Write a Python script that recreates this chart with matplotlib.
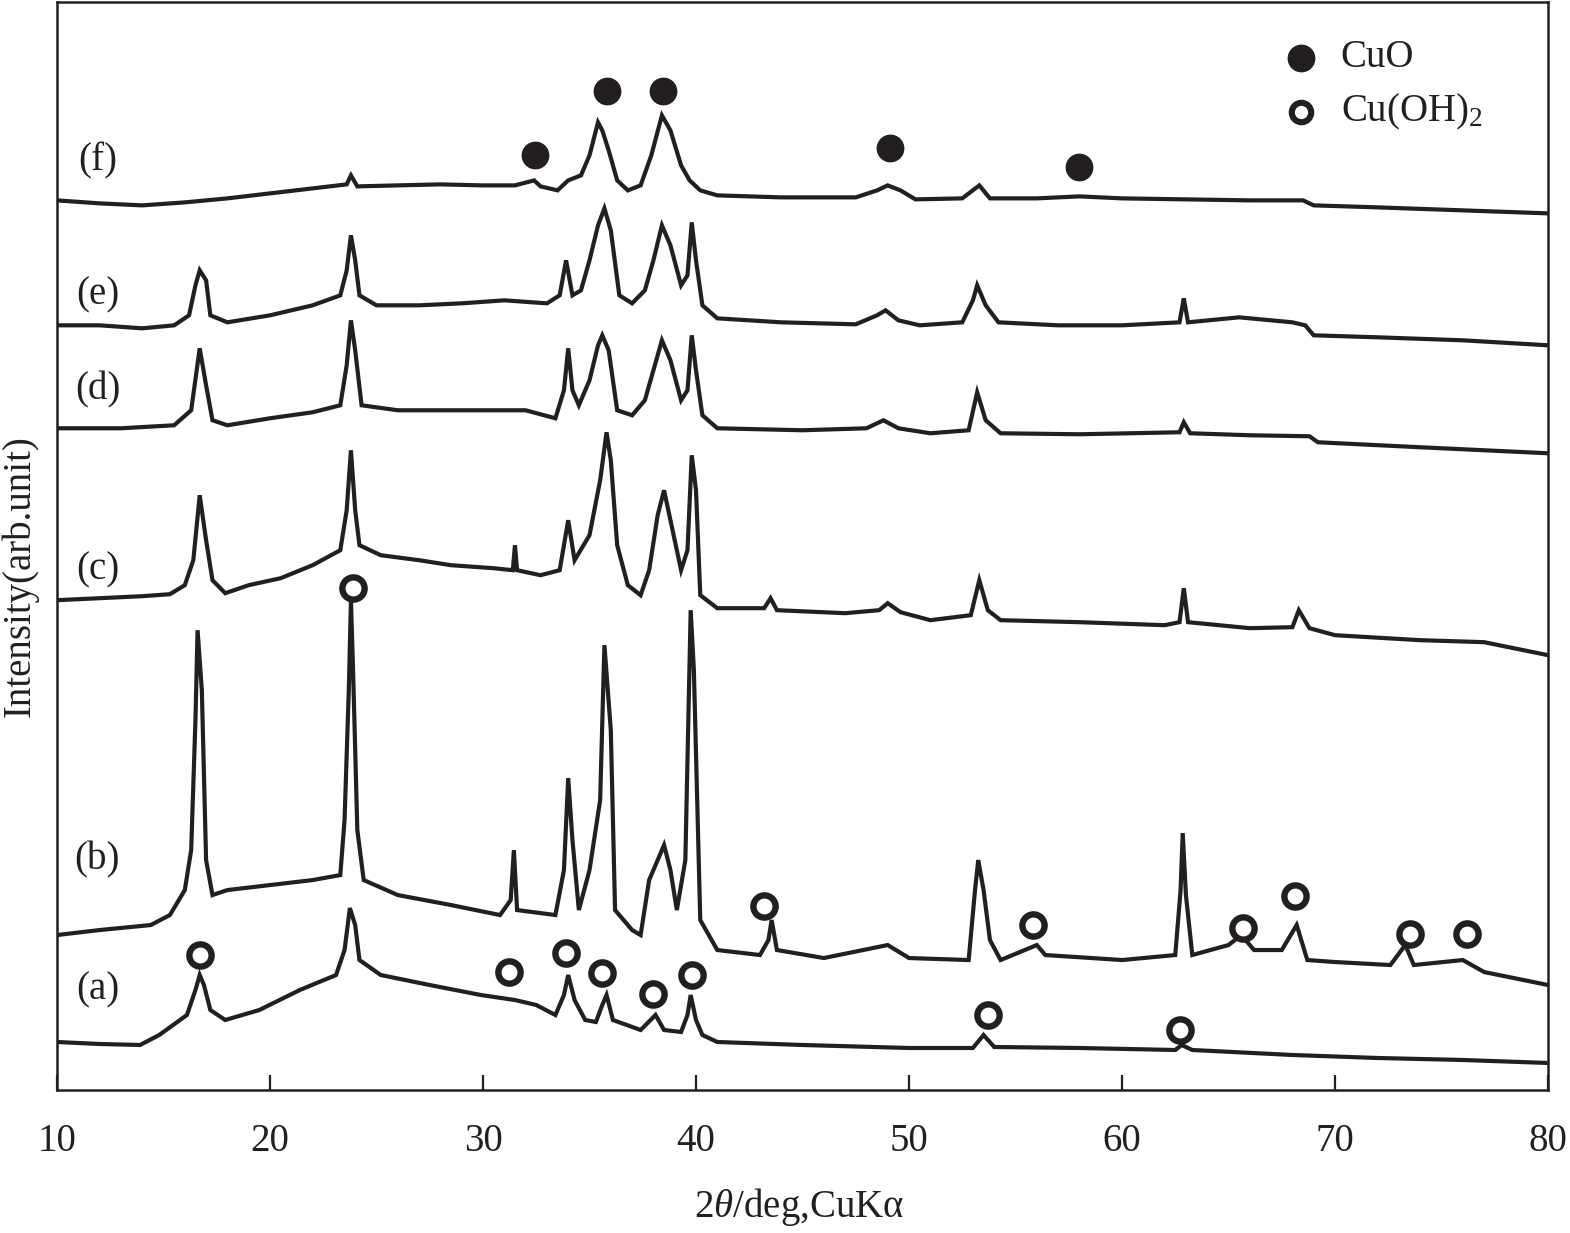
import matplotlib
matplotlib.use("Agg")
import matplotlib.pyplot as plt

plt.rcParams['font.family'] = ['Liberation Serif', 'DejaVu Serif']
plt.rcParams['mathtext.fontset'] = 'custom'
plt.rcParams['mathtext.rm'] = 'Liberation Serif'
plt.rcParams['mathtext.it'] = 'Liberation Serif:italic'

# XRD patterns, 2theta (deg) and stacked intensity (arb. unit)
a_x = [10.0, 12.0, 13.9, 14.8, 16.1, 16.5, 16.7, 16.9, 17.2, 17.9, 19.5, 21.4, 23.1, 23.5, 23.75, 24.0, 24.2,
       25.2, 27.5, 29.9, 31.5, 32.5, 33.4, 33.8, 34.0, 34.3, 34.8, 35.3, 35.6, 35.8, 36.1, 37.4, 38.1, 38.5,
       39.3, 39.6, 39.75, 40.0, 40.3, 41.0, 45.0, 50.0, 53.0, 53.5, 54.0, 58.0, 62.5, 62.8, 63.3, 68.0, 72.0,
       76.0, 80.0]
a_y = [48, 46, 45, 55, 75, 100, 115, 105, 80, 70, 80, 100, 115, 140, 182, 165, 130,
       115, 105, 95, 90, 85, 75, 95, 115, 90, 70, 68, 85, 95, 70, 60, 75, 60,
       58, 75, 95, 70, 55, 48, 45, 42, 42, 55, 43, 42, 40, 45, 40, 35, 32,
       30, 27]

b_x = [10.0, 12.0, 14.4, 15.3, 16.0, 16.3, 16.5, 16.6, 16.8, 17.0, 17.3, 18.0, 20.0, 22.0, 23.3, 23.5, 23.7,
       23.8, 23.9, 24.1, 24.4, 26.0, 28.5, 30.8, 31.3, 31.45, 31.6, 33.4, 33.8, 34.0, 34.2, 34.5, 35.0, 35.5,
       35.7, 36.0, 36.2, 37.0, 37.4, 37.8, 38.1, 38.5, 38.8, 39.1, 39.5, 39.75, 39.9, 40.2, 41.0, 43.0, 43.4,
       43.55, 43.8, 46.0, 49.0, 50.0, 52.8, 53.1, 53.25, 53.5, 53.8, 54.3, 56.0, 56.4, 60.0, 62.5, 62.75,
       62.85, 63.0, 63.3, 65.0, 65.6, 66.2, 67.5, 68.2, 68.7, 70.0, 72.6, 73.3, 73.7, 76.0, 77.0, 80.0]
b_y = [155, 160, 165, 175, 200, 240, 370, 460, 400, 230, 195, 200, 205, 210, 215, 270, 400,
       490, 420, 260, 210, 195, 185, 175, 190, 240, 180, 175, 220, 312, 250, 180, 220, 290,
       445, 360, 180, 160, 155, 210, 225, 245, 220, 180, 230, 480, 420, 170, 140, 135, 150,
       170, 140, 132, 145, 132, 130, 200, 230, 200, 150, 130, 145, 135, 130, 135, 200,
       257, 195, 135, 145, 155, 140, 140, 165, 130, 128, 125, 145, 125, 130, 118, 105]

c_x = [10.0, 12.0, 14.0, 15.3, 16.0, 16.4, 16.7, 17.0, 17.3, 17.9, 19.0, 20.5, 22.0, 23.3, 23.6, 23.8, 24.0,
       24.2, 25.2, 27.0, 28.5, 30.5, 31.4, 31.5, 31.6, 32.7, 33.6, 34.0, 34.3, 35.0, 35.5, 35.8, 36.0, 36.3,
       36.8, 37.4, 37.8, 38.2, 38.5, 38.9, 39.3, 39.6, 39.8, 40.0, 40.2, 41.0, 43.2, 43.5, 43.8, 47.0, 48.6,
       49.0, 49.6, 51.0, 52.9, 53.3, 53.7, 54.3, 58.0, 62.0, 62.7, 62.9, 63.1, 66.0, 68.0, 68.3, 68.8, 70.0,
       74.0, 77.0, 80.0]
c_y = [490, 492, 494, 496, 505, 530, 595, 550, 510, 497, 505, 512, 525, 540, 580, 640, 580,
       545, 535, 530, 525, 522, 520, 545, 520, 515, 520, 570, 530, 555, 610, 658, 630, 545,
       505, 495, 520, 575, 600, 560, 520, 540, 635, 600, 495, 482, 482, 492, 480, 477, 480,
       487, 478, 470, 475, 510, 480, 470, 468, 465, 468, 502, 468, 462, 463, 480, 462, 455,
       450, 448, 435]

d_x = [10.0, 13.0, 15.5, 16.3, 16.7, 17.0, 17.3, 18.0, 20.0, 22.0, 23.3, 23.6, 23.8, 24.0, 24.3, 26.0, 30.0,
       32.0, 33.4, 33.8, 34.0, 34.2, 34.5, 35.0, 35.4, 35.6, 35.9, 36.3, 37.0, 37.6, 38.0, 38.4, 38.8, 39.3,
       39.6, 39.8, 40.0, 40.3, 41.0, 45.0, 48.0, 48.8, 49.5, 51.0, 52.8, 53.2, 53.6, 54.3, 58.0, 62.7, 62.9,
       63.2, 66.0, 68.8, 69.2, 74.0, 80.0]
d_y = [662, 662, 665, 680, 742, 705, 670, 665, 672, 678, 685, 725, 770, 740, 685, 680, 680,
       680, 672, 700, 742, 700, 685, 710, 745, 755, 740, 680, 675, 690, 720, 750, 730, 690,
       700, 755, 720, 675, 662, 660, 662, 670, 662, 657, 660, 698, 670, 657, 656, 658, 668,
       657, 655, 654, 648, 643, 637]

e_x = [10.0, 12.0, 14.0, 15.5, 16.2, 16.5, 16.7, 17.0, 17.2, 18.0, 20.0, 22.0, 23.3, 23.6, 23.8, 24.0, 24.2,
       25.0, 27.0, 29.0, 31.0, 33.0, 33.6, 33.9, 34.2, 34.6, 35.0, 35.4, 35.7, 36.0, 36.4, 37.0, 37.6, 38.0,
       38.4, 38.8, 39.3, 39.6, 39.8, 40.0, 40.3, 41.0, 44.0, 47.5, 48.5, 48.9, 49.5, 50.5, 52.5, 53.0, 53.2,
       53.6, 54.2, 57.0, 60.0, 62.7, 62.9, 63.1, 65.5, 68.0, 68.6, 69.0, 72.0, 76.0, 80.0]
e_y = [765, 765, 762, 765, 775, 805, 820, 810, 775, 768, 775, 785, 795, 820, 855, 830, 795,
       785, 785, 787, 790, 787, 795, 830, 795, 800, 830, 865, 882, 860, 795, 787, 800, 830,
       865, 845, 805, 815, 868, 830, 785, 772, 768, 766, 775, 780, 770, 765, 768, 790, 805,
       785, 768, 765, 765, 768, 792, 768, 773, 768, 765, 755, 753, 750, 745]

f_x = [10.0, 12.0, 14.0, 16.0, 18.0, 20.0, 22.0, 23.6, 23.8, 24.1, 26.0, 28.0, 30.0, 31.5, 32.4, 32.7, 33.5,
       34.0, 34.6, 35.0, 35.4, 35.6, 35.9, 36.3, 36.8, 37.4, 37.9, 38.4, 38.8, 39.3, 39.7, 40.2, 41.0, 44.0,
       47.5, 48.5, 49.0, 49.6, 50.3, 52.5, 53.3, 53.8, 56.0, 58.0, 60.0, 63.0, 66.0, 68.5, 69.0, 72.0, 76.0,
       80.0]
f_y = [890, 887, 885, 888, 892, 897, 902, 906, 915, 904, 905, 906, 905, 905, 910, 904, 900,
       910, 915, 935, 968, 960, 940, 910, 900, 905, 935, 975, 960, 925, 910, 900, 895, 893,
       893, 900, 905, 900, 891, 892, 905, 892, 892, 894, 892, 891, 890, 890, 885, 883, 880,
       877]

patterns = [(a_x, a_y), (b_x, b_y), (c_x, c_y), (d_x, d_y), (e_x, e_y), (f_x, f_y)]
sample_labels = ['(a)', '(b)', '(c)', '(d)', '(e)', '(f)']
label_y = [100, 230, 520, 700, 795, 930]

# phase markers
cuo_x = [32.45, 35.8, 38.45, 49.1, 58.0]
cuo_y = [935, 999, 999, 942, 923]
cuoh_x = [16.7, 23.9, 31.2, 33.9, 35.6, 38.0, 39.8, 43.2, 53.7, 55.8, 62.7, 65.7, 68.1, 73.5, 76.2]
cuoh_y = [135, 502, 118, 137, 117, 96, 115, 184, 75, 165, 60, 162, 194, 156, 156]

ink = '#231f20'
fs = 28

fig, ax = plt.subplots(figsize=(15.7, 12.33), dpi=100)
fig.subplots_adjust(left=0.0363, right=0.986, bottom=0.116, top=0.998)

for (xs, ys), lab, ly in zip(patterns, sample_labels, label_y):
    ax.plot(xs, ys, color=ink, lw=3.0, solid_joinstyle='miter')
    ax.text(11.9, ly, lab, fontsize=fs, ha='center', va='center', color=ink)

ax.plot(cuo_x, cuo_y, 'o', ms=19, color=ink, ls='none')
ax.plot(cuoh_x, cuoh_y, 'o', ms=16, mfc='white', mec=ink, mew=4.6, ls='none')

# legend drawn by hand
ax.plot([0.834], [0.949], 'o', ms=19, color=ink, transform=ax.transAxes, clip_on=False)
ax.plot([0.834], [0.899], 'o', ms=14, mfc='white', mec=ink, mew=4.4, transform=ax.transAxes, clip_on=False)
ax.text(0.861, 0.949, 'CuO', fontsize=fs, va='center', transform=ax.transAxes, color=ink)
ax.text(0.861, 0.899, r'Cu(OH)$_\mathrm{2}$', fontsize=fs, va='center', transform=ax.transAxes, color=ink)

ax.set_xlim(10, 80)
ax.set_ylim(0, 1088)
ax.set_xticks(range(10, 81, 10))
ax.set_yticks([])
ax.tick_params(axis='x', direction='in', length=11, width=1.6, pad=24, labelsize=fs, colors=ink)
for sp in ax.spines.values():
    sp.set_linewidth(1.8)
    sp.set_color(ink)

ax.set_xlabel(r'2$\theta$/deg,CuKα', fontsize=fs, color=ink)
ax.xaxis.set_label_coords(0.498, -0.088)
ax.set_ylabel('Intensity(arb.unit)', fontsize=fs, color=ink)
ax.yaxis.set_label_coords(-0.0125, 0.473)

fig.savefig('out.png', dpi=100)
